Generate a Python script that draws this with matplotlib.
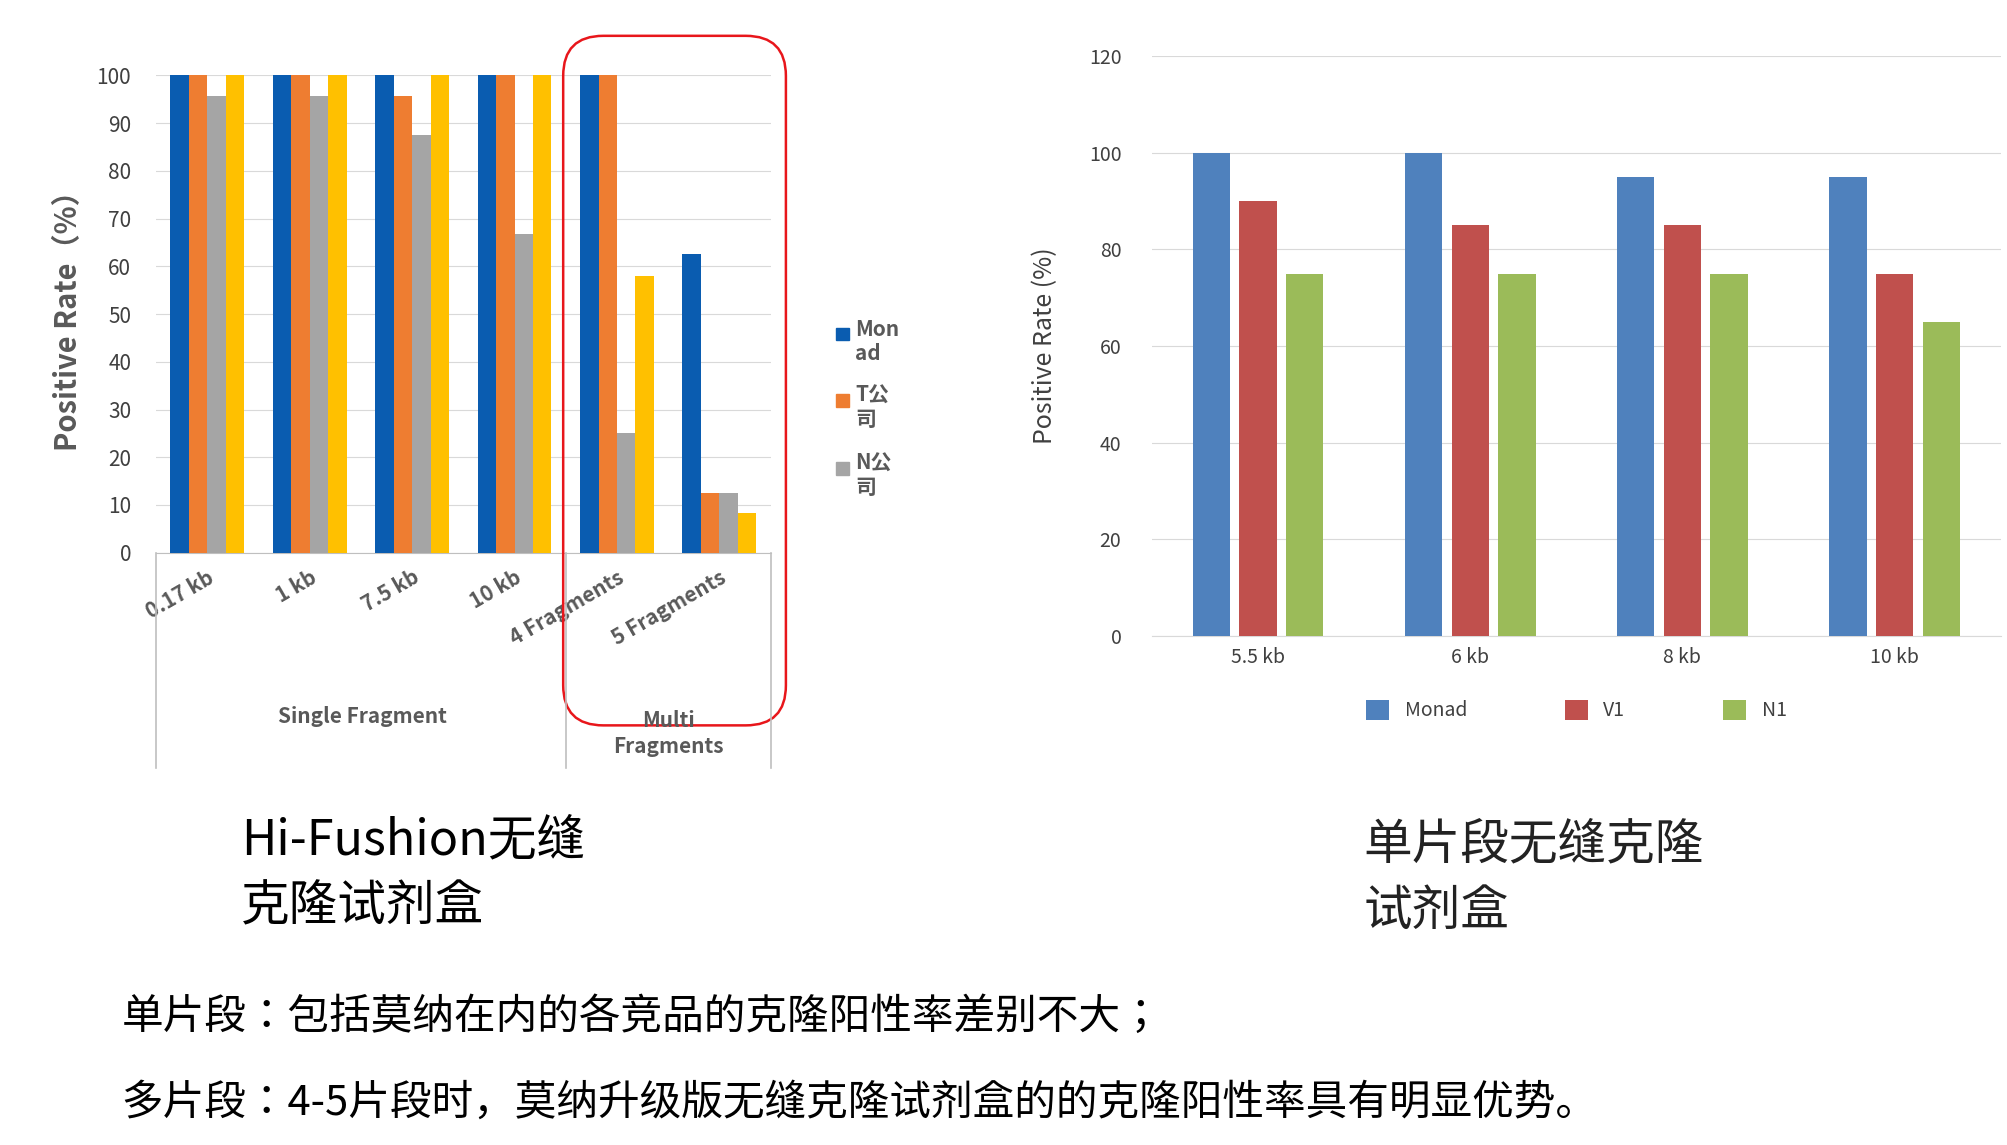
import numpy as np
import matplotlib
matplotlib.use("Agg")
import matplotlib.pyplot as plt
from matplotlib import font_manager
from matplotlib.patches import FancyBboxPatch

cjk = [f.name for f in font_manager.fontManager.ttflist if 'CJK' in f.name]
cjk_name = 'Noto Sans CJK SC' if 'Noto Sans CJK SC' in cjk else (cjk[0] if cjk else 'DejaVu Sans')
plt.rcParams['font.family'] = 'sans-serif'
plt.rcParams['font.sans-serif'] = [cjk_name, 'DejaVu Sans']

# left chart data
left_cats = ['0.17 kb', '1 kb', '7.5 kb', '10 kb', '4 Fragments', '5 Fragments']
monad = [100, 100, 100, 100, 100, 62.5]
t_co = [100, 100, 95.8, 100, 100, 12.5]
n_co = [95.8, 95.8, 87.5, 66.7, 25, 12.5]
q_co = [100, 100, 100, 100, 58, 8.3]

# right chart data
right_cats = ['5.5 kb', '6 kb', '8 kb', '10 kb']
r_monad = [100, 100, 95, 95]
r_v1 = [90, 85, 85, 75]
r_n1 = [75, 75, 75, 65]

W, H = 1568, 895
fig = plt.figure(figsize=(20.07, 11.45), dpi=100)

def fx(x): return x / W
def fy(y): return 1 - y / H

arial = 'Liberation Sans'

# ---- left chart
axl = fig.add_axes([fx(122), fy(432), fx(602) - fx(122), fy(59) - fy(432)])
x = np.arange(len(left_cats))
w = 0.18
cols = ['#0a5cb0', '#ee7d31', '#a5a5a5', '#ffc000']
for i, (vals, c) in enumerate(zip([monad, t_co, n_co, q_co], cols)):
    axl.bar(x + (i - 1.5) * w, vals, w, color=c, zorder=3)
axl.set_xlim(-0.5, len(left_cats) - 0.5)
axl.set_ylim(0, 100)
axl.set_yticks(range(0, 101, 10))
axl.yaxis.grid(True, color='#d9d9d9', zorder=0)
for s in ['top', 'right', 'left']:
    axl.spines[s].set_visible(False)
axl.spines['bottom'].set_color('#bfbfbf')
axl.tick_params(axis='y', length=0, labelsize=15, colors='#404040', pad=18)
axl.set_xticks(x)
axl.set_xticklabels(left_cats, rotation=30, ha='right', fontsize=15,
                    fontweight='bold', color='#595959', rotation_mode='anchor')
axl.tick_params(axis='x', length=0, pad=10)
axl.set_ylabel('Positive Rate（%）', fontsize=21, fontweight='bold', color='#595959', labelpad=10)
for xp in [122, 442, 602]:
    fig.add_artist(plt.Line2D([fx(xp), fx(xp)], [fy(432), fy(600)], color='#bfbfbf', lw=1.2))
fig.text(fx(283), fy(560), 'Single Fragment', fontsize=15, fontweight='bold', color='#595959', ha='center', va='center')
fig.text(fx(522), fy(573), 'Multi\nFragments', fontsize=15, fontweight='bold', color='#595959', ha='center', va='center', linespacing=1.3)
# legend
leg_y = [261, 313, 366]
leg_t = ['Mon\nad', 'T公\n司', 'N公\n司']
for yy, t, c in zip(leg_y, leg_t, cols[:3]):
    fig.patches.append(plt.Rectangle((fx(653), fy(yy + 5)), fx(10), 10 / H, color=c, transform=fig.transFigure))
    fig.text(fx(668), fy(yy - 12), t, fontsize=15, fontweight='bold', color='#595959', va='top', linespacing=1.2)
box = FancyBboxPatch((fx(440), fy(567)), fx(174), fy(28) - fy(567),
                     boxstyle='round,pad=0,rounding_size=0.02', transform=fig.transFigure,
                     fill=False, ec='#e8161b', lw=1.8, mutation_aspect=W / H)
fig.patches.append(box)

# ---- right chart
axr = fig.add_axes([fx(900), fy(497), fx(1563) - fx(900), fy(44) - fy(497)])
xr = np.arange(len(right_cats))
wr = 0.22
rcols = ['#4f81bd', '#c0504d', '#9bbb59']
for i, (vals, c) in enumerate(zip([r_monad, r_v1, r_n1], rcols)):
    axr.bar(xr + (i - 1) * wr, vals, wr * 0.8, color=c, zorder=3, label=['Monad', 'V1', 'N1'][i])
axr.set_xlim(-0.5, len(right_cats) - 0.5)
axr.set_ylim(0, 120)
axr.set_yticks(range(0, 121, 20))
axr.yaxis.grid(True, color='#d9d9d9', zorder=0)
for s in ['top', 'right', 'left']:
    axr.spines[s].set_visible(False)
axr.spines['bottom'].set_color('#d9d9d9')
axr.tick_params(axis='y', length=0, labelsize=14, colors='#404040', pad=22)
axr.set_xticks(xr)
axr.set_xticklabels(right_cats, fontsize=14, color='#404040')
axr.tick_params(axis='x', length=0, pad=8)
axr.set_ylabel('Positive Rate (%)', fontsize=18, color='#404040', labelpad=22)
axr.legend(loc='upper center', bbox_to_anchor=(0.5, -0.08), ncol=3, frameon=False,
           fontsize=14, handlelength=1.2, handleheight=1.2, columnspacing=5, labelcolor='#404040')

# ---- captions
fig.text(fx(188), fy(657), 'Hi-Fushion无缝', fontsize=35, va='center', ha='left')
fig.text(fx(188), fy(709), '克隆试剂盒', fontsize=35, va='center', ha='left')
fig.text(fx(1065), fy(660), '单片段无缝克隆', fontsize=35, va='center', ha='left', color='#222222')
fig.text(fx(1065), fy(712), '试剂盒', fontsize=35, va='center', ha='left', color='#222222')
fig.text(fx(95), fy(795), '单片段：包括莫纳在内的各竞品的克隆阳性率差别不大；', fontsize=30, va='center')
fig.text(fx(95), fy(862), '多片段：4-5片段时，莫纳升级版无缝克隆试剂盒的的克隆阳性率具有明显优势。', fontsize=30, va='center')

fig.savefig('out.png', dpi=100)
